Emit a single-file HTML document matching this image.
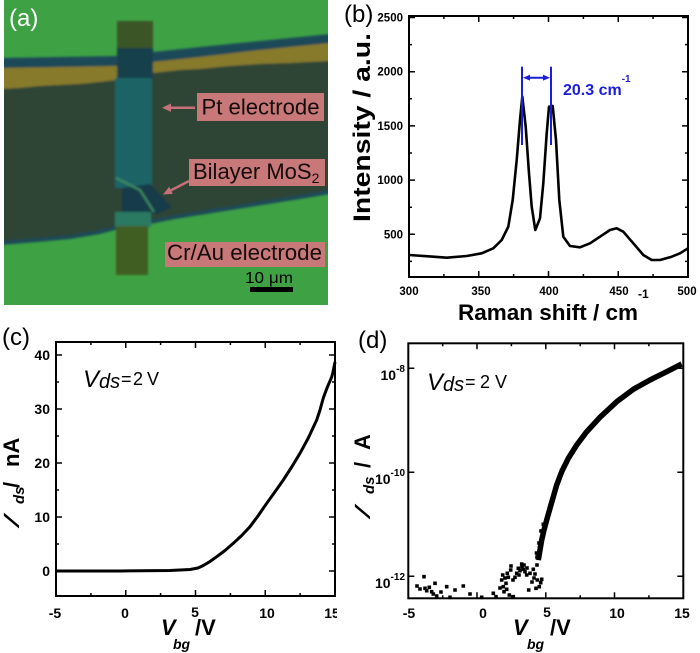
<!DOCTYPE html>
<html><head><meta charset="utf-8"><style>
html,body{margin:0;padding:0;background:#fff;}
svg{display:block;}
text{font-family:"Liberation Sans",Arial,sans-serif;}
</style></head><body>
<svg width="700" height="653" viewBox="0 0 700 653" xmlns="http://www.w3.org/2000/svg">
<defs>
<clipPath id="ca"><rect x="4" y="0" width="324" height="305"/></clipPath>
<clipPath id="cc"><rect x="0" y="320" width="337" height="333"/></clipPath>
<filter id="bl"><feGaussianBlur stdDeviation="1.1"/></filter>
</defs>
<rect width="700" height="653" fill="#fff"/>

<!-- ===== Panel (a) ===== -->
<g clip-path="url(#ca)">
<rect x="0" y="0" width="330" height="305" fill="#3ea244"/>
<g filter="url(#bl)">
<polygon fill="#1c4a58" points="0,58 60,57 117,56 153,52 200,47 260,41 330,34 330,194 300,199 250,207 200,215 175,219 150,224 115,230 100,234 70,239 37,242 0,245"/>
<polygon fill="#877a2c" points="0,68 60,67 117,66 153,62 200,57 260,50 330,43 330,61 290,63 260,64 230,66 200,69 180,70 153,73 117,80 100,82 80,84 60,85 40,86 20,88 0,89"/>
<polygon fill="#2e4436" points="0,89 20,88 40,86 60,85 80,84 100,82 117,80 153,73 180,70 200,69 230,66 260,64 290,63 330,61 330,190 300,195 250,203 200,211 175,215 150,220 115,226 100,230 70,235 37,238 0,241"/>
<rect x="117" y="21" width="36" height="30" fill="#3b5428"/>
<rect x="117" y="48" width="36" height="32" fill="#163f4c"/>
<rect x="115" y="78" width="37" height="110" fill="#1b6366"/>
<polygon fill="#153b4a" points="122,188 150,184 172,207 158,214 122,214"/>
<polyline points="116,178 140,190 154,212" stroke="#3f9060" stroke-width="2" fill="none"/>
<rect x="115" y="212" width="36" height="15" fill="#2b7a62"/>
<rect x="116" y="226" width="32" height="49" fill="#405d24"/>
</g>
<rect x="197" y="93" width="127" height="28" fill="#c87878"/>
<text x="201.5" y="114.5" font-size="22" fill="#140c0c" textLength="118" lengthAdjust="spacingAndGlyphs">Pt electrode</text>
<line x1="195" y1="107.7" x2="170" y2="107.7" stroke="#c8707a" stroke-width="2.5"/>
<polygon fill="#c8707a" points="162,107.7 171,103.5 171,111.9"/>
<rect x="189" y="159" width="136" height="27" fill="#c87878"/>
<text x="193" y="179" font-size="22" fill="#140c0c">Bilayer MoS<tspan font-size="14" dy="4">2</tspan></text>
<line x1="189" y1="181" x2="171" y2="190.3" stroke="#c8707a" stroke-width="2.5"/>
<polygon fill="#c8707a" points="163,194.5 172.8,193.9 169.2,186.8"/>
<rect x="165" y="242" width="160" height="25" fill="#c87878"/>
<text x="167" y="260" font-size="22" fill="#140c0c" textLength="155" lengthAdjust="spacingAndGlyphs">Cr/Au electrode</text>
<text x="245" y="283" font-size="16" fill="#000" textLength="48" lengthAdjust="spacingAndGlyphs">10 μm</text>
<rect x="250" y="287" width="43" height="5" fill="#000"/>
<text x="9" y="26" font-size="24" fill="#fff">(a)</text>
</g>

<!-- ===== Panel (b) ===== -->
<text x="344" y="22" font-size="24" fill="#000">(b)</text>
<rect x="409" y="16" width="279" height="261" fill="none" stroke="#000" stroke-width="2"/>
<path fill="none" stroke="#000" stroke-width="1.5" d="
M443.9 277v-3M478.75 277v-6M513.6 277v-3M548.5 277v-6M583.4 277v-3M618.25 277v-6M653.1 277v-3
M443.9 16v3M478.75 16v6M513.6 16v3M548.5 16v6M583.4 16v3M618.25 16v6M653.1 16v3
M409 261.4h3M409 234.3h6M409 207.2h3M409 180.1h6M409 153h3M409 125.9h6M409 98.8h3M409 71.7h6M409 44.6h3M409 17.5h6
M688 261.4h-3M688 234.3h-6M688 207.2h-3M688 180.1h-6M688 153h-3M688 125.9h-6M688 98.8h-3M688 71.7h-6M688 44.6h-3M688 17.5h-6"/>
<g font-size="11.5" font-weight="bold" text-anchor="end" fill="#000">
<text x="403" y="21.5">2500</text>
<text x="403" y="75.7">2000</text>
<text x="403" y="129.9">1500</text>
<text x="403" y="184.1">1000</text>
<text x="403" y="238.3">500</text>
</g>
<g font-size="11.5" font-weight="bold" text-anchor="middle" fill="#000">
<text x="409" y="295">300</text>
<text x="481" y="295">350</text>
<text x="549" y="295">400</text>
<text x="619" y="295">450</text>
<text x="687" y="295">500</text>
</g>
<text transform="translate(370,222) rotate(-90)" font-size="24" font-weight="bold" textLength="189" lengthAdjust="spacingAndGlyphs">Intensity / a.u.</text>
<text x="458" y="320" font-size="22.5" font-weight="bold">Raman shift / cm<tspan font-size="12" dy="-22">-1</tspan></text>
<polyline fill="none" stroke="#000" stroke-width="2.6" stroke-linejoin="round" points="409.3,255 433.3,256.7 446.7,257.7 466.7,256 481.7,253.3 493.3,248.3 501.7,240 508.3,226.7 512.7,200 516.7,160 520,120 522.3,96.7 525.7,126.7 529,173.3 531.7,206.7 535.3,230 540,218.3 543.3,183.3 546.7,133.3 549,106.7 552.7,106 556,140 559.3,200 563.3,236.7 570,246 580,247.3 590,243.3 600,236.7 610,230 616.7,228.3 623.3,231.7 633.3,243.3 643.3,255 651.7,260 660,260 671.7,256.7 680,253.3 688,248.3"/>
<g stroke="#1c1cdc" stroke-width="2">
<line x1="522" y1="66.7" x2="522" y2="145"/>
<line x1="551" y1="66.7" x2="551" y2="145"/>
<line x1="527" y1="77.7" x2="546" y2="77.7"/>
</g>
<polygon fill="#1c1cdc" points="523,77.7 530,74.8 530,80.6"/>
<polygon fill="#1c1cdc" points="550,77.7 543,74.8 543,80.6"/>
<text x="563" y="95" font-size="16" font-weight="bold" fill="#1c1cdc">20.3 cm<tspan font-size="10" dy="-13">-1</tspan></text>

<!-- ===== Panel (c) ===== -->
<text x="2" y="345" font-size="24" fill="#000">(c)</text>
<rect x="56" y="342" width="279" height="254" fill="none" stroke="#000" stroke-width="2"/>
<path fill="none" stroke="#000" stroke-width="1.5" d="
M90.9 596v-3M125.75 596v-6M160.6 596v-3M195.5 596v-6M230.4 596v-3M265.25 596v-6M300.1 596v-3
M90.9 342v3M125.75 342v6M160.6 342v3M195.5 342v6M230.4 342v3M265.25 342v6M300.1 342v3
M56 571h6M56 544h3M56 517h6M56 490h3M56 463h6M56 436h3M56 409h6M56 382h3M56 355h6
M335 571h-6M335 544h-3M335 517h-6M335 490h-3M335 463h-6M335 436h-3M335 409h-6M335 382h-3M335 355h-6"/>
<g font-size="14" font-weight="bold" text-anchor="end" fill="#000">
<text x="50" y="360">40</text>
<text x="50" y="414">30</text>
<text x="50" y="468">20</text>
<text x="50" y="522">10</text>
<text x="50" y="576">0</text>
</g>
<g font-size="14" font-weight="bold" text-anchor="middle" fill="#000" clip-path="url(#cc)">
<text x="55" y="618">-5</text>
<text x="125" y="618">0</text>
<text x="195" y="617">5</text>
<text x="267" y="618">10</text>
<text x="332" y="618">15</text>
</g>
<polyline fill="none" stroke="#000" stroke-width="3" stroke-linejoin="round" points="56,571 120,571 170,570.5 190,569.5 198,568 203.3,565.5 210,561.5 216.7,556.7 225,550.5 233.3,543.3 241.7,535.5 250,526.7 258.3,515.5 266.7,503.3 275,491.7 283.3,480 291.7,467 300,453.3 308.3,438 316.7,420 320,410 323.3,398 327,388 331.7,377 333,372 335,362"/>
<text x="83" y="387" font-size="24" font-style="italic">V</text>
<text x="99" y="388" font-size="20" font-style="italic">ds</text>
<text x="121" y="385" font-size="18">=</text>
<text x="133" y="385" font-size="18">2</text>
<text x="147" y="385" font-size="18">V</text>
<text transform="translate(19,530) rotate(-90) skewX(-40)" font-size="22" font-weight="bold">I</text>
<text transform="translate(24,504) rotate(-90)" font-size="15" font-weight="bold" font-style="italic">ds</text>
<text transform="translate(19,488) rotate(-90)" font-size="22" font-weight="bold">/</text>
<text transform="translate(19,467) rotate(-90)" font-size="22" font-weight="bold">nA</text>
<text x="161" y="635" font-size="22" font-weight="bold" font-style="italic">V</text>
<text x="173" y="649" font-size="14" font-weight="bold" font-style="italic">bg</text>
<text x="195" y="635" font-size="22" font-weight="bold">/V</text>

<!-- ===== Panel (d) ===== -->
<text x="358" y="348" font-size="24" fill="#000">(d)</text>
<rect x="408.3" y="343.3" width="275" height="255" fill="none" stroke="#000" stroke-width="2"/>
<path fill="none" stroke="#000" stroke-width="1.5" d="
M442.7 598.3v-3M477 598.3v-6M511.4 598.3v-3M545.8 598.3v-6M580.2 598.3v-3M614.5 598.3v-6M648.9 598.3v-3
M442.7 343.3v3M477 343.3v6M511.4 343.3v3M545.8 343.3v6M580.2 343.3v3M614.5 343.3v6M648.9 343.3v3
M408.3 368.3h6M408.3 472.3h6M408.3 576.3h6
M683.3 368.3h-6M683.3 472.3h-6M683.3 576.3h-6"/>
<g font-size="14" font-weight="bold" text-anchor="end" fill="#000">
<text x="405" y="380">10<tspan font-size="10" dy="-8">-8</tspan></text>
<text x="405" y="484">10<tspan font-size="10" dy="-8">-10</tspan></text>
<text x="405" y="588">10<tspan font-size="10" dy="-8">-12</tspan></text>
</g>
<g font-size="14" font-weight="bold" text-anchor="middle" fill="#000">
<text x="409" y="618">-5</text>
<text x="483" y="618">0</text>
<text x="547" y="617">5</text>
<text x="617" y="618">10</text>
<text x="682" y="618">15</text>
</g>
<polyline fill="none" stroke="#000" stroke-width="5.5" stroke-linejoin="round" points="538.3,560 540,550 541.7,540 544,530 546.7,520 550,508.3 553.3,496.7 556.7,485 561.7,471.7 568.3,458.3 576.7,445 586.7,431.7 600,417.3 616.7,401.7 633.3,389.3 650,380 666.7,371.7 681.7,364"/>
<path fill="#000" transform="translate(-1.8,-1.8)" d="
M424 576.7h3.6v3.6h-3.6zM425 588.3h3.6v3.6h-3.6zM426.7 590.7h3.6v3.6h-3.6zM429.3 587.3h3.6v3.6h-3.6zM431.7 591.7h3.6v3.6h-3.6zM433.3 594h3.6v3.6h-3.6zM435 583.3h3.6v3.6h-3.6zM436.7 596h3.6v3.6h-3.6zM446.7 586.7h3.6v3.6h-3.6zM450 597.3h3.6v3.6h-3.6zM455 590h3.6v3.6h-3.6zM463.3 586h3.6v3.6h-3.6zM470 594h3.6v3.6h-3.6zM481.7 597.3h3.6v3.6h-3.6zM493.3 593.3h3.6v3.6h-3.6zM496 596.7h3.6v3.6h-3.6zM501.7 580h3.6v3.6h-3.6zM502.7 575h3.6v3.6h-3.6zM503.3 586.7h3.6v3.6h-3.6zM504 591.7h3.6v3.6h-3.6zM506 583.3h3.6v3.6h-3.6zM506.7 589.3h3.6v3.6h-3.6zM507.3 573.3h3.6v3.6h-3.6zM508.3 577.3h3.6v3.6h-3.6zM509.3 595h3.6v3.6h-3.6zM510.7 570h3.6v3.6h-3.6zM513.3 596.7h3.6v3.6h-3.6zM515 577.3h3.6v3.6h-3.6zM516.7 573.3h3.6v3.6h-3.6zM518.3 568.3h3.6v3.6h-3.6zM520 570.7h3.6v3.6h-3.6zM521.7 564h3.6v3.6h-3.6zM523.3 569.3h3.6v3.6h-3.6zM525 571.7h3.6v3.6h-3.6zM526.7 575h3.6v3.6h-3.6zM528.7 590h3.6v3.6h-3.6zM530 573.3h3.6v3.6h-3.6zM532 582h3.6v3.6h-3.6zM533.3 569.3h3.6v3.6h-3.6zM535 574h3.6v3.6h-3.6zM536 588.3h3.6v3.6h-3.6zM537.3 580h3.6v3.6h-3.6zM539.3 586.7h3.6v3.6h-3.6zM540.7 582.7h3.6v3.6h-3.6zM541.7 579.3h3.6v3.6h-3.6zM538.3 558.3h3.6v3.6h-3.6zM539.3 548.3h3.6v3.6h-3.6zM543.3 524.3h3.6v3.6h-3.6zM542.7 535h3.6v3.6h-3.6zM545 526.7h3.6v3.6h-3.6zM537 565h3.6v3.6h-3.6zM536.5 553h3.6v3.6h-3.6z
M511 566h3.6v3.6h-3.6zM513 580h3.6v3.6h-3.6zM519 575h3.6v3.6h-3.6zM522 567h3.6v3.6h-3.6zM524 565h3.6v3.6h-3.6zM527 568h3.6v3.6h-3.6zM505 578h3.6v3.6h-3.6zM500 588h3.6v3.6h-3.6zM417 586h3.6v3.6h-3.6zM420 589h3.6v3.6h-3.6zM441 592h3.6v3.6h-3.6zM534 578h3.6v3.6h-3.6zM539 543h3.6v3.6h-3.6zM541 531h3.6v3.6h-3.6zM537 557h3.6v3.6h-3.6z"/>
<text x="427" y="390" font-size="24" font-style="italic">V</text>
<text x="443" y="391" font-size="20" font-style="italic">ds</text>
<text x="465" y="388" font-size="18">=</text>
<text x="480" y="388" font-size="18">2</text>
<text x="495" y="388" font-size="18">V</text>
<text transform="translate(370,521) rotate(-90) skewX(-40)" font-size="22" font-weight="bold">I</text>
<text transform="translate(374,494) rotate(-90)" font-size="15" font-weight="bold" font-style="italic">ds</text>
<text transform="translate(370,468) rotate(-90)" font-size="22" font-weight="bold">/</text>
<text transform="translate(370,450) rotate(-90)" font-size="22" font-weight="bold">A</text>
<text x="513" y="635" font-size="22" font-weight="bold" font-style="italic">V</text>
<text x="527" y="649" font-size="14" font-weight="bold" font-style="italic">bg</text>
<text x="550" y="635" font-size="22" font-weight="bold">/V</text>
</svg>
</body></html>
